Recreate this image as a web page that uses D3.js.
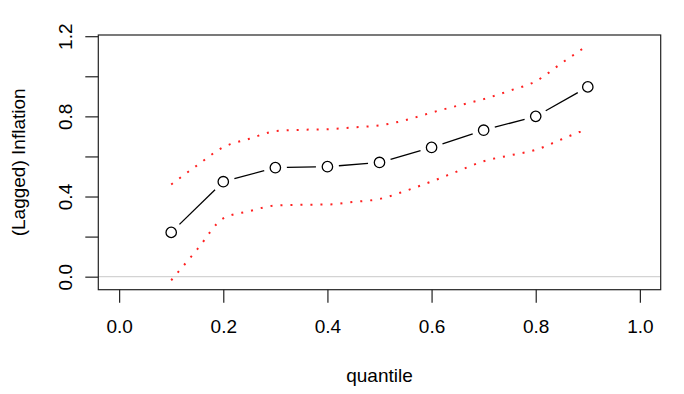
<!DOCTYPE html>
<html>
<head>
<meta charset="utf-8">
<script src="https://cdn.jsdelivr.net/npm/d3@7"></script>
<style>
  body { margin: 0; background: #fff; }
  svg { display: block; font-family: "Liberation Sans", Arial, Helvetica, sans-serif; }
</style>
</head>
<body>
<div class="chart"></div>
<script>
// quantile estimates
var quantiles = [0.1, 0.2, 0.3, 0.4, 0.5, 0.6, 0.7, 0.8, 0.9];
var coefs = [0.221, 0.474, 0.544, 0.549, 0.570, 0.645, 0.731, 0.800, 0.947];

// confidence band, read on a 0.05 grid
var bandGrid = [0.1, 0.15, 0.2, 0.25, 0.3, 0.35, 0.4, 0.45, 0.5, 0.55, 0.6, 0.65, 0.7, 0.75, 0.8, 0.85, 0.9];
var upper = [0.460, 0.556, 0.646, 0.688, 0.726, 0.733, 0.736, 0.745, 0.755, 0.781, 0.819, 0.853, 0.886, 0.928, 0.975, 1.066, 1.155];
var lower = [-0.018, 0.136, 0.291, 0.327, 0.355, 0.359, 0.360, 0.373, 0.388, 0.428, 0.475, 0.526, 0.576, 0.605, 0.633, 0.686, 0.739];

var xTicks = [0, 0.2, 0.4, 0.6, 0.8, 1.0];
var yTicks = [0, 0.2, 0.4, 0.6, 0.8, 1.0, 1.2];
var yLabels = ["0.0", "", "0.4", "", "0.8", "", "1.2"];

var width = 684, height = 394;
var box = { left: 98.3, right: 660.7, top: 35, bottom: 289.7 };

var svg = d3.select(".chart").append("svg")
  .attr("width", width)
  .attr("height", height);

var x = d3.scaleLinear().domain([-0.04, 1.04]).range([box.left, box.right]);
var y = d3.scaleLinear().domain([-0.065, 1.206]).range([box.bottom, box.top]);

svg.append("clipPath").attr("id", "plotclip")
  .append("rect")
  .attr("x", box.left).attr("y", box.top)
  .attr("width", box.right - box.left).attr("height", box.bottom - box.top);

var plot = svg.append("g").attr("clip-path", "url(#plotclip)");

// zero line
plot.append("line")
  .attr("x1", box.left).attr("x2", box.right)
  .attr("y1", y(0)).attr("y2", y(0))
  .attr("stroke", "#d3d3d3")
  .attr("stroke-width", 1.4);

// band lines
var bandLine = d3.line()
  .x(function(d, i) { return x(bandGrid[i]); })
  .y(function(d) { return y(d); })
  .curve(d3.curveMonotoneX);

[upper, lower].forEach(function(series) {
  plot.append("path")
    .attr("d", bandLine(series))
    .attr("fill", "none")
    .attr("stroke", "#ff2020")
    .attr("stroke-width", 2)
    .attr("stroke-dasharray", "2,8");
});

// segments between points, with gaps round the circles
var gap = 11.5;
for (var i = 0; i < quantiles.length - 1; i++) {
  var x1 = x(quantiles[i]), y1 = y(coefs[i]);
  var x2 = x(quantiles[i + 1]), y2 = y(coefs[i + 1]);
  var len = Math.sqrt((x2 - x1) * (x2 - x1) + (y2 - y1) * (y2 - y1));
  var ux = (x2 - x1) / len, uy = (y2 - y1) / len;
  plot.append("line")
    .attr("x1", x1 + ux * gap).attr("y1", y1 + uy * gap)
    .attr("x2", x2 - ux * gap).attr("y2", y2 - uy * gap)
    .attr("stroke", "black")
    .attr("stroke-width", 1.3);
}

plot.selectAll("circle.pt")
  .data(quantiles)
  .enter()
  .append("circle")
  .attr("class", "pt")
  .attr("cx", function(d) { return x(d); })
  .attr("cy", function(d, i) { return y(coefs[i]); })
  .attr("r", 5.2)
  .attr("fill", "white")
  .attr("stroke", "black")
  .attr("stroke-width", 1.3);

// box
svg.append("rect")
  .attr("x", box.left).attr("y", box.top)
  .attr("width", box.right - box.left).attr("height", box.bottom - box.top)
  .attr("fill", "none")
  .attr("stroke", "#222")
  .attr("stroke-width", 1.2);

// x axis
var xAxis = svg.append("g")
  .attr("transform", "translate(0," + box.bottom + ")")
  .call(d3.axisBottom(x).tickValues(xTicks).tickSize(13)
    .tickFormat(function(d) { return d3.format(".1f")(d); }));
xAxis.select(".domain").remove();
xAxis.selectAll("line").attr("stroke", "#222").attr("stroke-width", 1.2);
xAxis.selectAll("text")
  .attr("y", 43.6)
  .attr("dy", 0)
  .attr("fill", "black")
  .style("font-size", "19px")
  .style("font-family", "'Liberation Sans', Arial, sans-serif");

// y axis
var yAxis = svg.append("g")
  .attr("transform", "translate(" + box.left + ",0)")
  .call(d3.axisLeft(y).tickValues(yTicks).tickSize(13)
    .tickFormat(function(d, i) { return yLabels[i]; }));
yAxis.select(".domain").remove();
yAxis.selectAll("line").attr("stroke", "#222").attr("stroke-width", 1.2);
yAxis.selectAll("text")
  .attr("transform", "rotate(-90)")
  .attr("x", 0)
  .attr("y", -26.5)
  .attr("dy", 0)
  .attr("text-anchor", "middle")
  .attr("fill", "black")
  .style("font-size", "19px")
  .style("font-family", "'Liberation Sans', Arial, sans-serif");

// titles
svg.append("text")
  .attr("x", (box.left + box.right) / 2)
  .attr("y", 381.7)
  .attr("text-anchor", "middle")
  .style("font-size", "19px")
  .text("quantile");

svg.append("text")
  .attr("transform", "translate(25," + ((box.top + box.bottom) / 2) + ") rotate(-90)")
  .attr("text-anchor", "middle")
  .style("font-size", "19px")
  .text("(Lagged) Inflation");
</script>
</body>
</html>
